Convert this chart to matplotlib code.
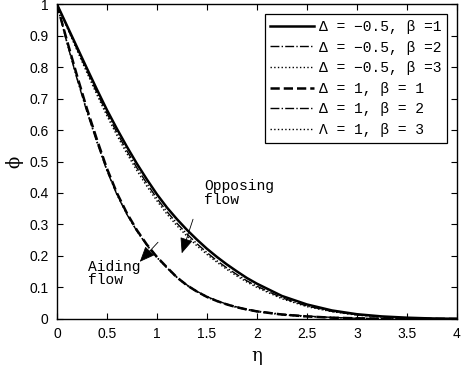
import matplotlib
matplotlib.use('Agg')
import matplotlib.pyplot as plt

# eta grid shared by all curves
eta = [0.0, 0.1, 0.2, 0.3, 0.4, 0.5, 0.6, 0.7, 0.8, 0.9, 1.0,
       1.1, 1.2, 1.3, 1.4, 1.5, 1.6, 1.7, 1.8, 1.9, 2.0,
       2.25, 2.5, 2.75, 3.0, 3.25, 3.5, 3.75, 4.0]

# opposing flow, delta = -0.5
phi_opp_b1 = [1.000, 0.932, 0.864, 0.796, 0.729, 0.664, 0.604, 0.547, 0.493, 0.443, 0.396,
              0.354, 0.317, 0.283, 0.252, 0.223, 0.197, 0.173, 0.151, 0.130, 0.112,
              0.073, 0.046, 0.027, 0.015, 0.008, 0.004, 0.0015, 0.0005]
phi_opp_b2 = [1.000, 0.929, 0.858, 0.788, 0.719, 0.653, 0.592, 0.534, 0.480, 0.430, 0.383,
              0.341, 0.304, 0.270, 0.239, 0.211, 0.185, 0.162, 0.141, 0.121, 0.104,
              0.067, 0.041, 0.024, 0.013, 0.007, 0.003, 0.0012, 0.0004]
phi_opp_b3 = [1.000, 0.927, 0.854, 0.782, 0.712, 0.645, 0.583, 0.525, 0.471, 0.421, 0.375,
              0.333, 0.296, 0.263, 0.232, 0.205, 0.180, 0.157, 0.136, 0.117, 0.100,
              0.064, 0.039, 0.023, 0.012, 0.006, 0.003, 0.001, 0.0003]

# aiding flow, delta = 1
phi_aid_b1 = [1.000, 0.885, 0.774, 0.668, 0.570, 0.478, 0.400, 0.336, 0.282, 0.236, 0.197,
              0.164, 0.132, 0.107, 0.087, 0.070, 0.057, 0.046, 0.037, 0.030, 0.024,
              0.014, 0.008, 0.004, 0.002, 0.001, 0.0005, 0.0002, 0.0]
phi_aid_b2 = [1.000, 0.878, 0.764, 0.658, 0.561, 0.471, 0.395, 0.332, 0.279, 0.234, 0.196,
              0.163, 0.133, 0.108, 0.088, 0.071, 0.058, 0.047, 0.038, 0.031, 0.025,
              0.015, 0.009, 0.005, 0.002, 0.001, 0.0005, 0.0002, 0.0]
phi_aid_b3 = [1.000, 0.880, 0.768, 0.662, 0.565, 0.474, 0.397, 0.333, 0.280, 0.234, 0.195,
              0.162, 0.131, 0.106, 0.086, 0.069, 0.056, 0.045, 0.036, 0.029, 0.023,
              0.013, 0.007, 0.004, 0.002, 0.001, 0.0005, 0.0002, 0.0]

labels = ['\u0394 = \u22120.5, \u03b2 =1',
          '\u0394 = \u22120.5, \u03b2 =2',
          '\u0394 = \u22120.5, \u03b2 =3',
          '\u0394 = 1, \u03b2 = 1',
          '\u0394 = 1, \u03b2 = 2',
          '\u039b = 1, \u03b2 = 3']

x_ticks = [0, 0.5, 1, 1.5, 2, 2.5, 3, 3.5, 4]
y_ticks = [0, 0.1, 0.2, 0.3, 0.4, 0.5, 0.6, 0.7, 0.8, 0.9, 1]

mono = ['Liberation Mono', 'DejaVu Sans Mono']
plt.rcParams['font.family'] = ['Liberation Sans', 'DejaVu Sans']

fig = plt.figure(figsize=(4.74, 3.70), dpi=100)
ax = fig.add_axes([0.120, 0.138, 0.844, 0.851])

ax.plot(eta, phi_opp_b1, 'k-', lw=1.8, label=labels[0])
ax.plot(eta, phi_opp_b2, 'k-.', lw=1.0, label=labels[1])
ax.plot(eta, phi_opp_b3, 'k:', lw=1.0, label=labels[2])
ax.plot(eta, phi_aid_b1, 'k--', lw=1.8, label=labels[3])
ax.plot(eta, phi_aid_b2, 'k-.', lw=1.0, label=labels[4])
ax.plot(eta, phi_aid_b3, 'k:', lw=1.0, label=labels[5])

ax.set_xlim(0, 4)
ax.set_ylim(0, 1)
ax.set_xticks(x_ticks)
ax.set_xticklabels(['0', '0.5', '1', '1.5', '2', '2.5', '3', '3.5', '4'])
ax.set_yticks(y_ticks)
ax.set_yticklabels(['0', '0.1', '0.2', '0.3', '0.4', '0.5', '0.6', '0.7', '0.8', '0.9', '1'])
ax.tick_params(direction='in', length=4, width=0.8, top=True, right=True,
               labelsize=10, pad=6)
for s in ax.spines.values():
    s.set_linewidth(1.0)

ax.set_xlabel('\u03b7', fontsize=13, family=['DejaVu Serif'])
ax.set_ylabel('\u03d5', fontsize=13, family=['DejaVu Serif'], rotation=90)

leg = ax.legend(loc='upper right', bbox_to_anchor=(0.975, 0.968), borderaxespad=0,
                prop={'family': mono, 'size': 10.5}, handlelength=3.0,
                handletextpad=0.3, labelspacing=0.45, fancybox=False,
                edgecolor='k', framealpha=1)
leg.get_frame().set_linewidth(0.9)

# annotations
ax.text(1.47, 0.40, 'Opposing\nflow', family=mono, fontsize=10.5,
        va='center', ha='left', linespacing=0.95)
ax.annotate('', xy=(1.24, 0.20), xytext=(1.37, 0.325),
            arrowprops=dict(arrowstyle='-|>,head_length=0.6,head_width=0.25',
                            lw=0.6, color='k', mutation_scale=16))
ax.text(0.31, 0.145, 'Aiding\nflow', family=mono, fontsize=10.5,
        va='center', ha='left', linespacing=0.95)
ax.annotate('', xy=(0.81, 0.175), xytext=(1.03, 0.25),
            arrowprops=dict(arrowstyle='-|>,head_length=0.6,head_width=0.25',
                            lw=0.6, color='k', mutation_scale=16))

fig.savefig('out.png', dpi=100)
